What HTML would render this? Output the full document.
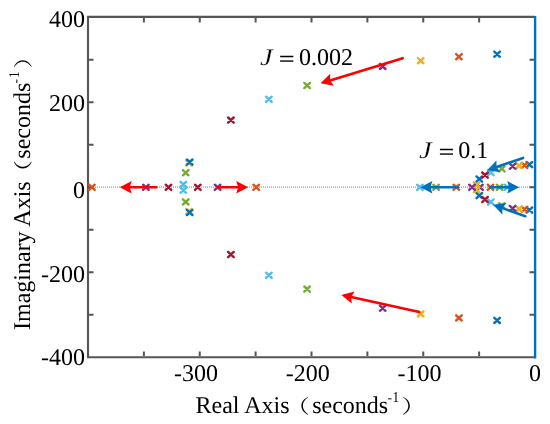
<!DOCTYPE html>
<html><head><meta charset="utf-8"><style>
html,body{margin:0;padding:0;background:#fff;width:550px;height:424px;overflow:hidden}
svg{display:block}
text{text-rendering:geometricPrecision}
</style></head><body>
<svg width="550" height="424" viewBox="0 0 550 424">
<rect width="550" height="424" fill="#fff"/>
<path d="M88 16.9H535M88 357.2H535M88 15.8V358.3" stroke="#555555" stroke-width="2.1" fill="none"/>
<line x1="89" y1="187.1" x2="534" y2="187.1" stroke="#9a9a9a" stroke-width="1.2" stroke-dasharray="1 1"/>
<path d="M143.88 356V351.5M143.88 18V22.5M199.75 356V351.5M199.75 18V22.5M255.62 356V351.5M255.62 18V22.5M311.50 356V351.5M311.50 18V22.5M367.38 356V351.5M367.38 18V22.5M423.25 356V351.5M423.25 18V22.5M479.12 356V351.5M479.12 18V22.5M89 314.80H93.5M534 314.80H529.5M89 272.30H93.5M534 272.30H529.5M89 229.80H93.5M534 229.80H529.5M89 187.30H93.5M534 187.30H529.5M89 144.80H93.5M534 144.80H529.5M89 102.30H93.5M534 102.30H529.5M89 59.80H93.5M534 59.80H529.5" stroke="#555555" stroke-width="2" fill="none"/>
<g stroke-width="2.4" stroke-linecap="round" fill="none">
<path d="M494.3 51.6L499.9 56.8M494.3 56.8L499.9 51.6" stroke="#0072BD"/>
<path d="M494.3 317.8L499.9 323.0M494.3 323.0L499.9 317.8" stroke="#0072BD"/>
<path d="M476.5 176.4L482.1 181.6M476.5 181.6L482.1 176.4" stroke="#0072BD"/>
<path d="M476.5 193.0L482.1 198.2M476.5 198.2L482.1 193.0" stroke="#0072BD"/>
<path d="M526.6 162.0L532.2 167.2M526.6 167.2L532.2 162.0" stroke="#0072BD"/>
<path d="M526.6 207.4L532.2 212.6M526.6 212.6L532.2 207.4" stroke="#0072BD"/>
<path d="M456.1 54.1L461.7 59.3M456.1 59.3L461.7 54.1" stroke="#D95319"/>
<path d="M456.1 315.3L461.7 320.5M456.1 320.5L461.7 315.3" stroke="#D95319"/>
<path d="M89.1 184.7L94.7 189.9M89.1 189.9L94.7 184.7" stroke="#D95319"/>
<path d="M253.4 184.7L259.0 189.9M253.4 189.9L259.0 184.7" stroke="#D95319"/>
<path d="M453.5 184.7L459.1 189.9M453.5 189.9L459.1 184.7" stroke="#D95319"/>
<path d="M487.7 184.7L493.3 189.9M487.7 189.9L493.3 184.7" stroke="#D95319"/>
<path d="M521.7 162.7L527.3 167.9M521.7 167.9L527.3 162.7" stroke="#D95319"/>
<path d="M521.7 206.7L527.3 211.9M521.7 211.9L527.3 206.7" stroke="#D95319"/>
<path d="M417.9 58.1L423.5 63.3M417.9 63.3L423.5 58.1" stroke="#EDB120"/>
<path d="M417.9 311.3L423.5 316.5M417.9 316.5L423.5 311.3" stroke="#EDB120"/>
<path d="M186.2 160.4L191.8 165.6M186.2 165.6L191.8 160.4" stroke="#EDB120"/>
<path d="M186.2 209.0L191.8 214.2M186.2 214.2L191.8 209.0" stroke="#EDB120"/>
<path d="M516.2 163.1L521.8 168.3M516.2 168.3L521.8 163.1" stroke="#EDB120"/>
<path d="M516.2 206.3L521.8 211.5M516.2 211.5L521.8 206.3" stroke="#EDB120"/>
<path d="M379.9 63.8L385.5 69.0M379.9 69.0L385.5 63.8" stroke="#7E2F8E"/>
<path d="M379.9 305.6L385.5 310.8M379.9 310.8L385.5 305.6" stroke="#7E2F8E"/>
<path d="M143.1 184.7L148.7 189.9M143.1 189.9L148.7 184.7" stroke="#7E2F8E"/>
<path d="M214.8 184.7L220.4 189.9M214.8 189.9L220.4 184.7" stroke="#7E2F8E"/>
<path d="M477.2 184.7L482.8 189.9M477.2 189.9L482.8 184.7" stroke="#7E2F8E"/>
<path d="M509.8 163.6L515.4 168.8M509.8 168.8L515.4 163.6" stroke="#7E2F8E"/>
<path d="M509.8 205.8L515.4 211.0M509.8 211.0L515.4 205.8" stroke="#7E2F8E"/>
<path d="M473.7 182.3L479.3 187.5M473.7 187.5L479.3 182.3" stroke="#EDB120"/>
<path d="M473.7 187.1L479.3 192.3M473.7 192.3L479.3 187.1" stroke="#EDB120"/>
<path d="M304.3 82.9L309.9 88.1M304.3 88.1L309.9 82.9" stroke="#77AC30"/>
<path d="M304.3 286.5L309.9 291.7M304.3 291.7L309.9 286.5" stroke="#77AC30"/>
<path d="M182.9 170.1L188.5 175.3M182.9 175.3L188.5 170.1" stroke="#77AC30"/>
<path d="M182.9 199.3L188.5 204.5M182.9 204.5L188.5 199.3" stroke="#77AC30"/>
<path d="M433.3 184.7L438.9 189.9M433.3 189.9L438.9 184.7" stroke="#77AC30"/>
<path d="M496.8 184.7L502.4 189.9M496.8 189.9L502.4 184.7" stroke="#77AC30"/>
<path d="M499.0 166.2L504.6 171.4M499.0 171.4L504.6 166.2" stroke="#77AC30"/>
<path d="M499.0 203.2L504.6 208.4M499.0 208.4L504.6 203.2" stroke="#77AC30"/>
<path d="M469.2 184.7L474.8 189.9M469.2 189.9L474.8 184.7" stroke="#7E2F8E"/>
<path d="M266.1 96.7L271.7 101.9M266.1 101.9L271.7 96.7" stroke="#4DBEEE"/>
<path d="M266.1 272.7L271.7 277.9M266.1 277.9L271.7 272.7" stroke="#4DBEEE"/>
<path d="M180.5 181.8L186.1 187.0M180.5 187.0L186.1 181.8" stroke="#4DBEEE"/>
<path d="M180.5 187.6L186.1 192.8M180.5 192.8L186.1 187.6" stroke="#4DBEEE"/>
<path d="M417.1 184.7L422.7 189.9M417.1 189.9L422.7 184.7" stroke="#4DBEEE"/>
<path d="M504.7 184.7L510.3 189.9M504.7 189.9L510.3 184.7" stroke="#4DBEEE"/>
<path d="M488.0 170.0L493.6 175.2M488.0 175.2L493.6 170.0" stroke="#4DBEEE"/>
<path d="M488.0 199.4L493.6 204.6M488.0 204.6L493.6 199.4" stroke="#4DBEEE"/>
<path d="M228.1 117.5L233.7 122.7M228.1 122.7L233.7 117.5" stroke="#A2142F"/>
<path d="M228.1 251.9L233.7 257.1M228.1 257.1L233.7 251.9" stroke="#A2142F"/>
<path d="M165.7 184.7L171.3 189.9M165.7 189.9L171.3 184.7" stroke="#A2142F"/>
<path d="M195.0 184.7L200.6 189.9M195.0 189.9L200.6 184.7" stroke="#A2142F"/>
<path d="M482.2 172.5L487.8 177.7M482.2 177.7L487.8 172.5" stroke="#A2142F"/>
<path d="M482.2 196.9L487.8 202.1M482.2 202.1L487.8 196.9" stroke="#A2142F"/>
<path d="M186.9 159.5L192.5 164.7M186.9 164.7L192.5 159.5" stroke="#0072BD"/>
<path d="M186.9 209.9L192.5 215.1M186.9 215.1L192.5 209.9" stroke="#0072BD"/>
</g>
<line x1="156.3" y1="187.3" x2="129.7" y2="187.3" stroke="#FF0000" stroke-width="2.6" stroke-linecap="round"/><path d="M119.7 187.3L131.7 181.1L129.7 187.3L131.7 193.6Z" fill="#FF0000"/>
<line x1="217.6" y1="187.3" x2="238.2" y2="187.3" stroke="#FF0000" stroke-width="2.6" stroke-linecap="round"/><path d="M248.2 187.3L236.2 193.6L238.2 187.3L236.2 181.1Z" fill="#FF0000"/>
<line x1="402.7" y1="58.2" x2="330.1" y2="80.4" stroke="#FF0000" stroke-width="2.6" stroke-linecap="round"/><path d="M320.5 83.3L330.2 73.8L330.1 80.4L333.8 85.8Z" fill="#FF0000"/>
<line x1="419.3" y1="311.9" x2="351.2" y2="297.0" stroke="#FF0000" stroke-width="2.6" stroke-linecap="round"/><path d="M341.4 294.9L354.5 291.4L351.2 297.0L351.8 303.6Z" fill="#FF0000"/>
<line x1="458.0" y1="187.3" x2="430.4" y2="187.3" stroke="#0072BD" stroke-width="2.6" stroke-linecap="round"/><path d="M420.4 187.3L432.4 181.1L430.4 187.3L432.4 193.6Z" fill="#0072BD"/>
<line x1="490.0" y1="187.3" x2="509.2" y2="187.3" stroke="#0072BD" stroke-width="2.6" stroke-linecap="round"/><path d="M519.2 187.3L507.2 193.6L509.2 187.3L507.2 181.1Z" fill="#0072BD"/>
<line x1="523.1" y1="157.9" x2="496.6" y2="167.0" stroke="#0072BD" stroke-width="2.6" stroke-linecap="round"/><path d="M487.1 170.2L496.4 160.4L496.6 167.0L500.5 172.2Z" fill="#0072BD"/>
<line x1="525.3" y1="216.2" x2="502.5" y2="208.1" stroke="#0072BD" stroke-width="2.6" stroke-linecap="round"/><path d="M493.1 204.7L506.5 202.9L502.5 208.1L502.3 214.6Z" fill="#0072BD"/>
<line x1="535.1" y1="16" x2="535.1" y2="358.5" stroke="#0072BD" stroke-width="2.4"/>
<g font-family="'Liberation Serif', 'Noto Serif CJK SC', serif" fill="#000">
<text transform="translate(196.0 381.3) scale(1.0 1.0)" text-anchor="middle" font-size="24">-300</text>
<text transform="translate(307.8 381.3) scale(1.0 1.0)" text-anchor="middle" font-size="24">-200</text>
<text transform="translate(419.6 381.3) scale(1.0 1.0)" text-anchor="middle" font-size="24">-100</text>
<text transform="translate(535.0 381.3) scale(1.0 1.0)" text-anchor="middle" font-size="24">0</text>
<text transform="translate(84.9 26.7) scale(1.0 1.0)" text-anchor="end" font-size="24">400</text>
<text transform="translate(84.9 111.2) scale(1.0 1.0)" text-anchor="end" font-size="24">200</text>
<text transform="translate(84.9 197.5) scale(1.0 1.0)" text-anchor="end" font-size="24">0</text>
<text transform="translate(84.9 281.7) scale(1.0 1.0)" text-anchor="end" font-size="24">-200</text>
<text transform="translate(84.9 364.5) scale(1.0 1.0)" text-anchor="end" font-size="24">-400</text>
<text x="195.5" y="412.5" text-anchor="start" font-size="24" >Real Axis</text>
<text transform="translate(285.8 412.8) scale(1 0.79)" font-size="24" font-family="'Liberation Serif', 'Noto Serif CJK SC', serif">（</text>
<text x="312.2" y="412.5" text-anchor="start" font-size="24" >seconds</text>
<text x="387.6" y="401.5" text-anchor="start" font-size="13.5" >-</text>
<text transform="translate(392.6 401.6) scale(0.88 1)" font-size="15">1</text>
<text transform="translate(401.5 412.8) scale(1 0.79)" font-size="24" font-family="'Liberation Serif', 'Noto Serif CJK SC', serif">）</text>
<g transform="translate(29.8 330) rotate(-90)">
<text x="0" y="0" text-anchor="start" font-size="24" >Imaginary Axis</text>
<text transform="translate(146.1 -0.2) scale(1 0.79)" font-size="24" font-family="'Liberation Serif', 'Noto Serif CJK SC', serif">（</text>
<text x="171.3" y="0" text-anchor="start" font-size="24" >seconds</text>
<text x="246.4" y="-10.3" text-anchor="start" font-size="13.5" >-</text>
<text transform="translate(252.0 -10.9) scale(0.88 1)" font-size="15">1</text>
<text transform="translate(261.6 -0.2) scale(1 0.79)" font-size="24" font-family="'Liberation Serif', 'Noto Serif CJK SC', serif">）</text>
</g>
<text transform="translate(260.1 65.3) scale(1.2 1.0)" font-style="italic" font-size="24" stroke="#fff" stroke-width="0.25">J</text>
<text transform="translate(279.0 66.1) scale(1.14 0.91)" font-size="24" stroke="#000" stroke-width="0.35">=</text>
<text transform="translate(299.0 65.3) scale(1.0 1.0)" text-anchor="start" font-size="24">0.002</text>
<text transform="translate(419.1 157.5) scale(1.2 1.0)" font-style="italic" font-size="24" stroke="#fff" stroke-width="0.25">J</text>
<text transform="translate(438.7 158.7) scale(1.14 0.91)" font-size="24" stroke="#000" stroke-width="0.35">=</text>
<text transform="translate(458.2 157.5) scale(1.0 1.0)" text-anchor="start" font-size="24">0.1</text>
</g>
</svg>
</body></html>
